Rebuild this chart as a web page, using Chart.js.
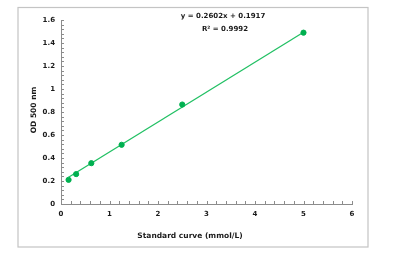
<!DOCTYPE html>
<html>
<head>
<meta charset="utf-8">
<script src="https://cdn.jsdelivr.net/npm/chart.js@4/dist/chart.umd.min.js"></script>
<style>
  html, body { margin: 0; padding: 0; background: #fff; }
  #curve { display: block; }
</style>
</head>
<body>
<canvas id="curve" width="395" height="253"></canvas>
<script>
// standard points
const concentrations = [0.156, 0.3125, 0.625, 1.25, 2.5, 5];
const odValues = [0.21, 0.26, 0.355, 0.515, 0.865, 1.49];

// fitted line ends (y = 0.2602x + 0.1917)
const fitX = [0.156, 5];
const fitY = [0.232, 1.493];

const xTickLabels = ["0", "1", "2", "3", "4", "5", "6"];
const yTickLabels = ["0", "0.2", "0.4", "0.6", "0.8", "1", "1.2", "1.4", "1.6"];

const equationText = "y = 0.2602x + 0.1917";
const rSquaredText = "R\u00b2 = 0.9992";

const green = "#00b050";
const lineGreen = "#22c064";
const axisGrey = "#8c8c8c";
const fontFamily = "'DejaVu Sans', Verdana, sans-serif";

function isStep(v, step) {
  const n = v / step;
  return Math.abs(n - Math.round(n)) < 1e-6;
}

// frame, inward ticks, titles and equation
const extras = {
  id: "extras",
  beforeDraw(chart) {
    const ctx = chart.ctx;
    ctx.save();
    ctx.strokeStyle = "#c4c4c4";
    ctx.lineWidth = 1.2;
    ctx.strokeRect(18, 7.5, 350, 239.5);
    ctx.restore();
  },
  afterDraw(chart) {
    const ctx = chart.ctx;
    const xs = chart.scales.x;
    const ys = chart.scales.y;
    ctx.save();
    ctx.strokeStyle = axisGrey;
    ctx.lineWidth = 1;
    xs.ticks.forEach((t) => {
      const px = Math.round(xs.getPixelForValue(t.value)) + 0.5;
      ctx.beginPath();
      ctx.moveTo(px, ys.bottom);
      ctx.lineTo(px, ys.bottom - 3);
      ctx.stroke();
    });
    ys.ticks.forEach((t) => {
      const py = Math.round(ys.getPixelForValue(t.value)) + 0.5;
      ctx.beginPath();
      ctx.moveTo(xs.left, py);
      ctx.lineTo(xs.left + 3, py);
      ctx.stroke();
    });

    ctx.fillStyle = "#1a1a1a";
    ctx.font = "bold 7.5px " + fontFamily;
    ctx.textAlign = "center";
    ctx.textBaseline = "middle";
    ctx.fillText("Standard curve (mmol/L)", 190, 236);

    ctx.save();
    ctx.translate(34, 110);
    ctx.rotate(-Math.PI / 2);
    ctx.fillText("OD 500 nm", 0, 0);
    ctx.restore();

    ctx.font = "bold 7px " + fontFamily;
    ctx.fillText(equationText, 223, 16);
    ctx.fillText(rSquaredText, 225, 29);
    ctx.restore();
  },
};

const curveData = {
  datasets: [
    {
      label: "Standard",
      data: concentrations.map((c, i) => ({ x: c, y: odValues[i] })),
      backgroundColor: green,
      borderColor: green,
      pointRadius: 2.6,
      showLine: false,
      order: 1,
    },
    {
      label: "Linear fit",
      data: fitX.map((c, i) => ({ x: c, y: fitY[i] })),
      borderColor: lineGreen,
      borderWidth: 1.3,
      pointRadius: 0,
      showLine: true,
      order: 2,
    },
  ],
};

const curveConfig = {
  type: "scatter",
  data: curveData,
  options: {
    responsive: false,
    animation: false,
    layout: { padding: { left: 0, top: 20, right: 43, bottom: 0 } },
    plugins: {
      legend: { display: false },
      tooltip: { enabled: false },
    },
    scales: {
      x: {
        type: "linear",
        min: 0,
        max: 6,
        afterFit(scale) { scale.height = 49; },
        grid: { drawOnChartArea: false, drawTicks: false },
        border: { color: axisGrey, width: 1 },
        ticks: {
          stepSize: 0.2,
          autoSkip: false,
          maxRotation: 0,
          padding: 6,
          color: "#1a1a1a",
          font: { family: fontFamily, size: 7, weight: "bold" },
          callback: (v) => (isStep(v, 1) ? xTickLabels[Math.round(v)] : ""),
        },
      },
      y: {
        type: "linear",
        min: 0,
        max: 1.6,
        afterFit(scale) { scale.width = 61; },
        grid: { drawOnChartArea: false, drawTicks: false },
        border: { color: axisGrey, width: 1 },
        ticks: {
          stepSize: 0.04,
          autoSkip: false,
          padding: 6,
          color: "#1a1a1a",
          font: { family: fontFamily, size: 7, weight: "bold" },
          callback: (v) => (isStep(v, 0.2) ? yTickLabels[Math.round(v / 0.2)] : ""),
        },
      },
    },
  },
  plugins: [extras],
};

const curveChart = new Chart(document.getElementById("curve"), curveConfig);
</script>
</body>
</html>
